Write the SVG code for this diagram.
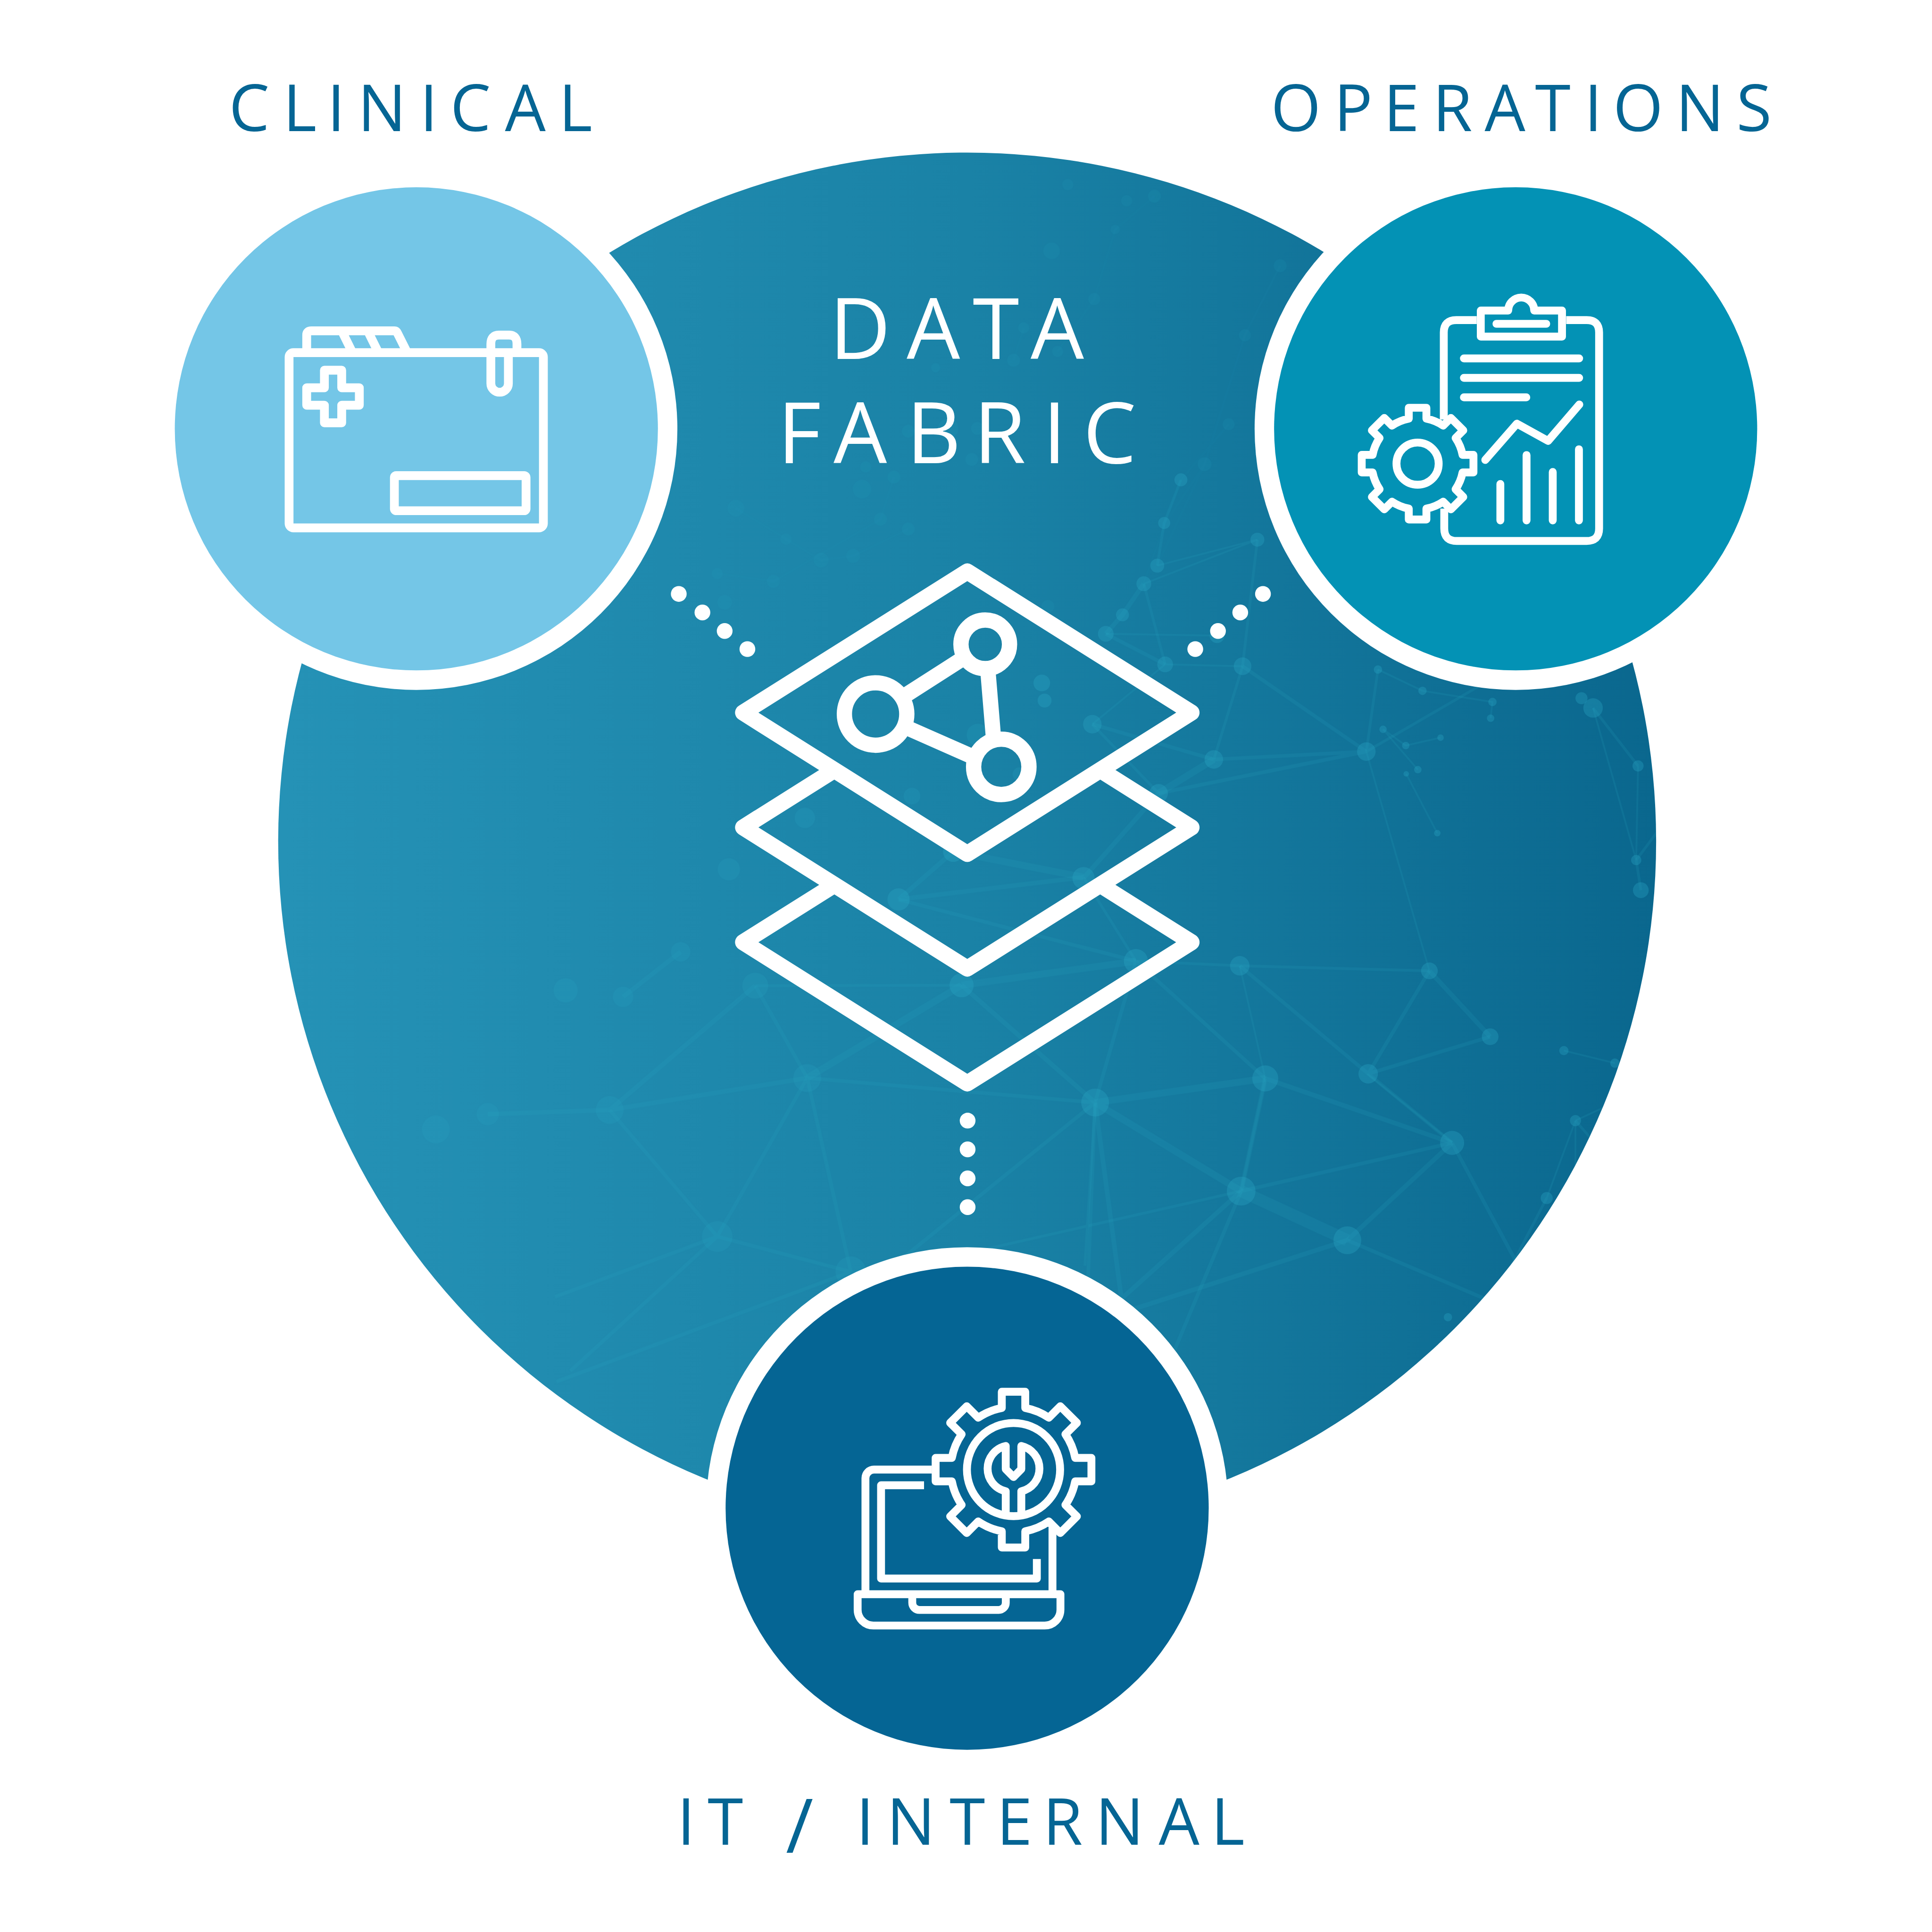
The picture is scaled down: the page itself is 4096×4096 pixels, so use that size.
<svg xmlns="http://www.w3.org/2000/svg" width="4096" height="4096" viewBox="0 0 4096 4096">
<style>
.ink{fill:none;stroke:#fff;stroke-linejoin:round}
.s19{stroke-width:19}.s17{stroke-width:17}.s35{stroke-width:35}.s33{stroke-width:33}
.rc{stroke-linecap:round}
.label{font-family:"Open Sans","Noto Sans",sans-serif;font-size:139px;fill:#056594}
.title{font-family:"Open Sans","Noto Sans",sans-serif;font-size:182px;fill:#fff}
.slash{font-size:162px}
.ring{fill:#fff}
.dot{fill:#fff}
.n{fill:#2aa6c4;opacity:.33}
.nf{fill:#2aa6c4;opacity:.2}
.e{fill:none;stroke:#2aa6c4;stroke-opacity:.15}
</style>
<defs>
<linearGradient id="fabricFill" gradientUnits="userSpaceOnUse" x1="600" y1="0" x2="3572" y2="0">
<stop offset="0" stop-color="#2592b6"/><stop offset=".5" stop-color="#1a82a6"/><stop offset="1" stop-color="#0a678e"/>
</linearGradient>
<clipPath id="fabricClip"><circle cx="2086" cy="1815" r="1486"/></clipPath>
</defs>
<g transform="scale(.98296)">
<rect width="4167" height="4167" fill="#fff"/>
<g id="fabric-background">
<circle cx="2086" cy="1815" r="1486" fill="url(#fabricFill)"/>
<g clip-path="url(#fabricClip)">
<g id="mesh-lines">
<path class="e" stroke-width="4" d="M2947 1621L3083 2094M2972 1444L3068 1490L3219 1514L3215 1549M2983 1573L3032 1608L3107 1591M2983 1573L3058 1660M3033 1669L3100 1797M3373 2266L3483 2293M3398 2417L3336 2584M3398 2417L3520 2360M3398 2417L3398 2560M3436 1527L3529 1855M3533 1652L3529 1855M2496 1220L2712 1164M2467 1259L2712 1164M2513 1433L2680 1437M2356 1562L2513 1433M2385 1367L2625 1371M2729 2326L2674 2083M2949 2316L3132 2464"/>
<path class="e" stroke-width="6" d="M2947 1621L2972 1444M2947 1621L3190 1480M2674 2083L3083 2094M2729 2326L2677 2569M3398 2417L3470 2500M3336 2584L3250 2750M3533 1652L3436 1527M3529 1855L3539 1920M3529 1855L3600 1760M2547 1035L2511 1128L2496 1220M2467 1259L2513 1433M2712 1164L2680 1437M2618 1638L2680 1437M2356 1562L2499 1711M2362 2378L2340 2730M2677 2569L2100 2700M2074 2125L1629 2126M2450 2073L2337 1892M2674 2083L2450 2073"/>
<path class="e" stroke-width="8" d="M2680 1437L2947 1621M2618 1638L2947 1621M2499 1711L2947 1621M2356 1562L2618 1638M2385 1367L2513 1433M2951 2316L3132 2465M3083 2094L2951 2316M2674 2083L2951 2316M3214 2236L2951 2316M2677 2569L3132 2465M2677 2569L2530 2920M2906 2675L3200 2800M3132 2465L3280 2740M2450 2073L2729 2326M2450 2073L2362 2378M1741 2325L2362 2378M1629 2126L1741 2325M1741 2325L1547 2667M1741 2325L1835 2743M1315 2394L1547 2667M1547 2667L1835 2743M1547 2667L1230 2957M1547 2667L1197 2797M1835 2743L1200 2980M1938 1940L2450 2073M2362 2378L1840 2800M2362 2378L2345 2800"/>
<path class="e" stroke-width="10" d="M2467 1259L2421 1326L2385 1367M2337 1894L2499 1711M3083 2094L3214 2236M2729 2326L2677 2569M2362 2378L2420 2810M2906 2675L2440 2825M3132 2465L2906 2675M2074 2125L2362 2378M1938 1940L2337 1892M1938 1940L2056 1837M1315 2394L1741 2325M1629 2126L1315 2394M1315 2394L1052 2403M1468 2053L1344 2150M2729 2326L3132 2465M2677 2569L2420 2800"/>
<path class="e" stroke-width="15" d="M2499 1711L2618 1638M2362 2378L2729 2326M2362 2378L2677 2569M2074 2125L1741 2325M2450 2073L2074 2125M2056 1837L2337 1892"/>
<path class="e" stroke-width="26" d="M2677 2569L2906 2675"/>
</g>
<g id="mesh-nodes">
<circle class="n" cx="2547" cy="1035" r="14"/><circle class="n" cx="2511" cy="1128" r="13"/><circle class="n" cx="2712" cy="1164" r="15"/><circle class="n" cx="2496" cy="1220" r="15"/><circle class="n" cx="2467" cy="1259" r="16"/><circle class="n" cx="2421" cy="1326" r="14"/><circle class="n" cx="2385" cy="1367" r="17"/><circle class="n" cx="2625" cy="1371" r="16"/><circle class="n" cx="2513" cy="1433" r="17"/><circle class="n" cx="2680" cy="1437" r="19"/><circle class="n" cx="2356" cy="1562" r="20"/><circle class="n" cx="2618" cy="1638" r="20"/><circle class="n" cx="2947" cy="1621" r="20"/><circle class="n" cx="2499" cy="1711" r="20"/><circle class="n" cx="2972" cy="1444" r="9"/><circle class="n" cx="3068" cy="1490" r="9"/><circle class="n" cx="3219" cy="1514" r="9"/><circle class="n" cx="3215" cy="1549" r="8"/><circle class="n" cx="2983" cy="1573" r="8"/><circle class="n" cx="3032" cy="1608" r="8"/><circle class="n" cx="3107" cy="1591" r="7"/><circle class="n" cx="3058" cy="1660" r="8"/><circle class="n" cx="3033" cy="1669" r="6"/><circle class="n" cx="3100" cy="1797" r="7"/><circle class="n" cx="3411" cy="1506" r="13"/><circle class="n" cx="3436" cy="1527" r="21"/><circle class="n" cx="3533" cy="1652" r="12"/><circle class="n" cx="3529" cy="1855" r="11"/><circle class="n" cx="3539" cy="1920" r="17"/><circle class="n" cx="2337" cy="1894" r="24"/><circle class="n" cx="2450" cy="2073" r="26"/><circle class="n" cx="2674" cy="2083" r="21"/><circle class="n" cx="3083" cy="2094" r="18"/><circle class="n" cx="3214" cy="2236" r="18"/><circle class="n" cx="3373" cy="2266" r="10"/><circle class="n" cx="3483" cy="2293" r="10"/><circle class="n" cx="2729" cy="2326" r="28"/><circle class="n" cx="2951" cy="2316" r="21"/><circle class="n" cx="2362" cy="2378" r="30"/><circle class="n" cx="3132" cy="2465" r="26"/><circle class="n" cx="2677" cy="2569" r="31"/><circle class="n" cx="2906" cy="2675" r="30"/><circle class="n" cx="3398" cy="2417" r="12"/><circle class="n" cx="3336" cy="2584" r="13"/><circle class="n" cx="3123" cy="2841" r="9"/>
<circle class="nf" cx="1736" cy="1764" r="22"/><circle class="nf" cx="1572" cy="1875" r="24"/><circle class="nf" cx="1468" cy="2053" r="21"/><circle class="nf" cx="1220" cy="2136" r="26"/><circle class="nf" cx="1344" cy="2150" r="22"/><circle class="nf" cx="1629" cy="2126" r="28"/><circle class="nf" cx="1741" cy="2325" r="30"/><circle class="nf" cx="1315" cy="2394" r="30"/><circle class="nf" cx="1052" cy="2403" r="24"/><circle class="nf" cx="940" cy="2436" r="30"/><circle class="nf" cx="1547" cy="2667" r="33"/><circle class="nf" cx="1835" cy="2743" r="33"/><circle class="n" cx="1938" cy="1940" r="24"/><circle class="n" cx="2056" cy="1837" r="22"/><circle class="n" cx="2074" cy="2125" r="26"/><circle class="nf" cx="1967" cy="1717" r="18"/><circle class="nf" cx="2109" cy="1585" r="24"/><circle class="nf" cx="2199" cy="1670" r="15"/><circle class="n" cx="2247" cy="1473" r="18"/><circle class="n" cx="2253" cy="1511" r="15"/>
</g>
<g id="mesh-faint" opacity=".35">
<path class="e" stroke-width="5" d="M2761 573L2685 723L2598 1001L2512 1130M2598 1001L2495 1221M2546 1036L2466 1259M2490 423L2405 495L2360 645L2281 758M2208 707L2186 777M1928 1029L1899 1120M1840 1199L1959 1141M1695 1163L1771 1208L1840 1199M1587 1096L1771 1208M1668 1254L1899 1120M2650 915L2546 1036M2045 924L1959 930M1547 1237L1668 1253"/>
<circle class="n" cx="2490" cy="423" r="14"/><circle class="n" cx="2430" cy="433" r="12"/><circle class="n" cx="2405" cy="495" r="10"/><circle class="n" cx="2303" cy="398" r="12"/><circle class="n" cx="2268" cy="541" r="18"/><circle class="n" cx="2761" cy="573" r="14"/><circle class="n" cx="2360" cy="645" r="13"/><circle class="n" cx="2685" cy="723" r="13"/><circle class="n" cx="2208" cy="707" r="12"/><circle class="n" cx="2281" cy="758" r="12"/><circle class="n" cx="2186" cy="777" r="14"/><circle class="n" cx="2018" cy="793" r="10"/><circle class="n" cx="2650" cy="915" r="13"/><circle class="n" cx="2045" cy="924" r="22"/><circle class="n" cx="1959" cy="930" r="14"/><circle class="n" cx="2108" cy="924" r="14"/><circle class="n" cx="2096" cy="991" r="14"/><circle class="n" cx="2598" cy="1001" r="15"/><circle class="n" cx="1867" cy="1007" r="12"/><circle class="n" cx="1928" cy="1029" r="14"/><circle class="n" cx="1859" cy="1055" r="20"/><circle class="n" cx="1587" cy="1096" r="18"/><circle class="n" cx="1899" cy="1120" r="14"/><circle class="n" cx="1959" cy="1141" r="14"/><circle class="n" cx="1695" cy="1163" r="12"/><circle class="n" cx="1771" cy="1208" r="16"/><circle class="n" cx="1840" cy="1199" r="15"/><circle class="n" cx="1547" cy="1237" r="12"/><circle class="n" cx="1668" cy="1254" r="14"/><circle class="n" cx="1563" cy="1299" r="16"/><circle class="n" cx="2260" cy="1308" r="14"/>
</g>
</g>
</g>

<g id="data-fabric">
<text class="title" y="774" x="1789 1955.5 2098 2223">DATA</text>
<text class="title" y="999.5" x="1677 1798 1955 2100 2249 2336">FABRIC</text>
<path class="ink s35" d="M2086.3 1232.8L2569.7 1537L2086.3 1841.5L1602.9 1537Z"/>
<path class="ink s35" d="M1799.6 1660.8L1602.9 1784.6L2086.3 2088.9L2569.7 1784.6L2373 1660.8"/>
<path class="ink s35" d="M1799.6 1908.5L1602.9 2032.3L2086.3 2336.6L2569.7 2032.3L2373 1908.5"/>
<circle class="ink s33" cx="1888.5" cy="1540" r="67.3"/>
<circle class="ink s33" cx="2125" cy="1389.7" r="52.4"/>
<circle class="ink s33" cx="2159.6" cy="1654" r="59.7"/>
<path class="ink s33" d="M1951 1500.8L2074 1422M2131 1450L2142.5 1588M1957 1570L2095 1631"/>
</g>

<g id="connectors">
<circle class="dot" cx="1464" cy="1281" r="17"/><circle class="dot" cx="1515" cy="1321" r="17"/><circle class="dot" cx="1563" cy="1361" r="17"/><circle class="dot" cx="1612" cy="1400" r="17"/>
<circle class="dot" cx="2578" cy="1400" r="17"/><circle class="dot" cx="2627" cy="1361" r="17"/><circle class="dot" cx="2675" cy="1321" r="17"/><circle class="dot" cx="2724" cy="1281" r="17"/>
<circle class="dot" cx="2087" cy="2417" r="17"/><circle class="dot" cx="2087" cy="2479" r="17"/><circle class="dot" cx="2087" cy="2541.6" r="17"/><circle class="dot" cx="2087" cy="2603.6" r="17"/>
</g>

<g id="clinical">
<circle class="ring" cx="898" cy="925" r="563"/>
<circle cx="898" cy="925" r="521" fill="#74c6e7"/>
<rect class="ink s19" x="623.5" y="760.5" width="548.5" height="378" rx="9.5"/>
<path class="ink s19" d="M661.5 760V722Q661.5 713.5 672 713.5H737L760 760M737 713.5H793L816 760M793 713.5H850Q855 713.5 857 718L878 760"/>
<path class="ink s19" d="M1115 752V742Q1115 722.7 1098 722.7H1076Q1058.7 722.7 1058.7 742V827A18.9 18.9 0 0 0 1096.5 827V770"/>
<path class="ink s19" d="M699.7 798.5H737V836.3H775V874H737V912H699.7V874H661.5V836.3H699.7Z"/>
<rect class="ink s19" x="850.6" y="1025.8" width="284" height="75.7" rx="4"/>
<text class="label" y="283" x="493.7 610.4 705.4 771.4 905.4 971 1089 1205">CLINICAL</text>
</g>

<g id="operations">
<circle class="ring" cx="3269" cy="925" r="563"/>
<circle cx="3269" cy="925" r="521" fill="#0392b5"/>
<path class="ink s17" d="M3185 690.3H3141Q3114 690.3 3114 717V905M3378 690.3H3422Q3449 690.3 3449 717V1140Q3449 1166.8 3422 1166.8H3142Q3115 1166.8 3115 1140V1097"/>
<path class="ink s17" d="M3193.8 669.7H3253A28 28 0 0 1 3309 669.7H3369V726H3193.8Z"/>
<path class="ink s17 rc" d="M3227.6 698.4H3335M3157.4 773H3406M3157.4 815H3406M3157.4 857H3292M3203.5 992L3271.7 913.8L3339 951L3406.3 872.5M3236 1044V1122.4M3292.5 981.5V1122.4M3349 1018V1122.4M3405.5 969V1122.4"/>
<path class="ink s17" transform="translate(3057.5 1000)" d="M-19 -120.5H19V-97A99 99 0 0 1 55.2 -82L71.8 -98.6L98.6 -71.8L82 -55.2A99 99 0 0 1 97 -19H120.5V19H97A99 99 0 0 1 82 55.2L98.6 71.8L71.8 98.6L55.2 82A99 99 0 0 1 19 97V120.5H-19V97A99 99 0 0 1 -55.2 82L-71.8 98.6L-98.6 71.8L-82 55.2A99 99 0 0 1 -97 19H-120.5V-19H-97A99 99 0 0 1 -82 -55.2L-98.6 -71.8L-71.8 -98.6L-55.2 -82A99 99 0 0 1 -19 -97Z"/>
<circle class="ink s17" cx="3057.5" cy="1000" r="45.5"/>
<text class="label" y="283" x="2741 2877 2984 3090 3202 3311 3417 3479 3614 3745">OPERATIONS</text>
</g>

<g id="it-internal">
<circle class="ring" cx="2086" cy="3253" r="563"/>
<circle cx="2086" cy="3253" r="521" fill="#056594"/>
<path class="ink s17" transform="translate(2186 3169.7)" d="M-25.3 -168H25.3V-133A134 134 0 0 1 76.2 -111.9L100.9 -136.7L136.7 -100.9L111.9 -76.2A134 134 0 0 1 133 -25.3H168V25.3H133A134 134 0 0 1 111.9 76.2L136.7 100.9L100.9 136.7L76.2 111.9A134 134 0 0 1 25.3 133V168H-25.3V133A134 134 0 0 1 -76.2 111.9L-100.9 136.7L-136.7 100.9L-111.9 76.2A134 134 0 0 1 -133 25.3H-168V-25.3H-133A134 134 0 0 1 -111.9 -76.2L-136.7 -100.9L-100.9 -136.7L-76.2 -111.9A134 134 0 0 1 -25.3 -133Z"/>
<circle class="ink s17" cx="2186" cy="3169.7" r="100.5"/>
<path class="ink s17" d="M2169.2 3266V3216.4A50 50 0 0 1 2169.2 3118.8V3168.6L2186 3185.8L2202.8 3168.6V3118.8A50 50 0 0 1 2202.8 3216.4V3266"/>
<path class="ink s17" d="M2010 3169.7H1885A18.4 18.4 0 0 0 1866.6 3188V3438M2270 3293V3438"/>
<path class="ink s17" d="M1993 3203.4H1900.3V3404.7H2236.3V3362.6"/>
<path class="ink s17" d="M1849.8 3438.4H2287.2V3472A34 34 0 0 1 2253 3506H1884A34 34 0 0 1 1849.8 3472Z"/>
<path class="ink s17" d="M1967.6 3438V3457A15.5 15.5 0 0 0 1983 3472.4H2154A15.5 15.5 0 0 0 2169.3 3457V3438"/>
<text class="label" y="3978.7" x="1460.4 1526.2 1610 1695 1780 1846.4 1912.4 2048.2 2149.4 2249.4 2362.4 2499 2612">IT <tspan class="slash" dy="17">/</tspan><tspan dy="-17"> </tspan>INTERNAL</text>
</g>
</g>
</svg>
